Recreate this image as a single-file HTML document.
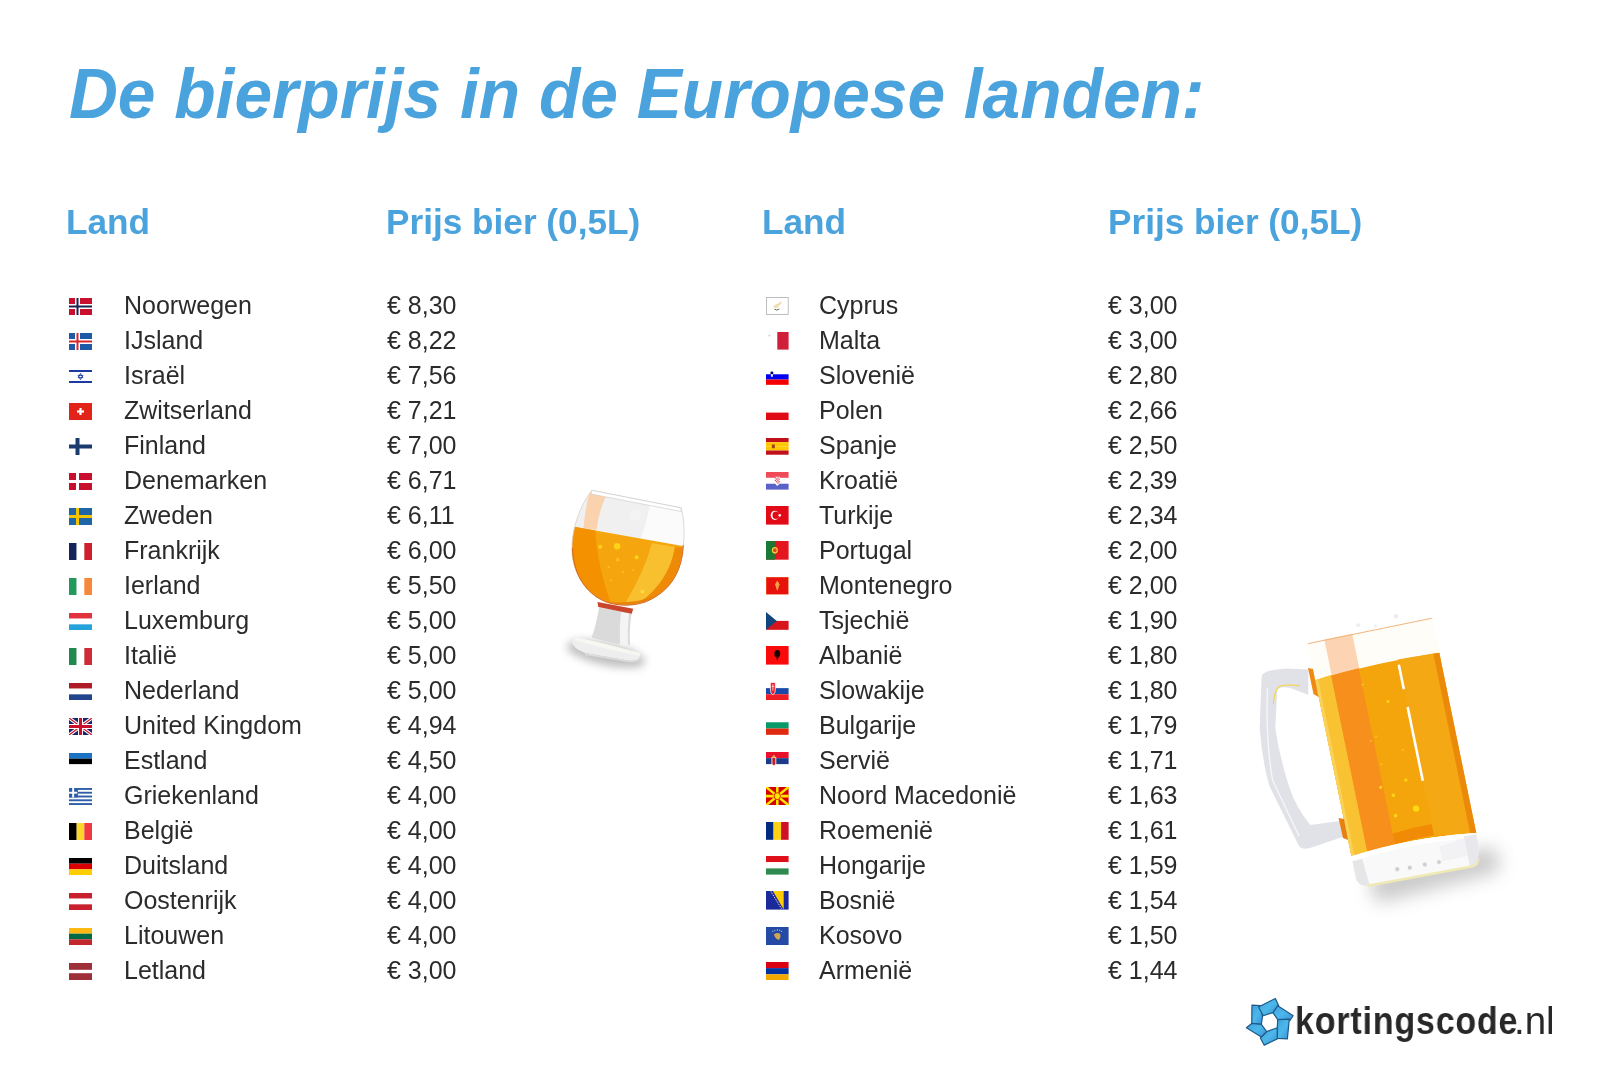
<!DOCTYPE html>
<html><head><meta charset="utf-8"><style>
html,body{margin:0;padding:0;background:#fff;}
body{width:1600px;height:1079px;position:relative;overflow:hidden;font-family:"Liberation Sans",sans-serif;}
.title{position:absolute;left:69px;top:59px;font-size:67.66px;font-weight:bold;font-style:italic;color:#4aa3dc;white-space:nowrap;line-height:1;transform-origin:0 0;transform:scaleY(1.03);}
.h{position:absolute;top:202px;font-size:35.2px;font-weight:bold;color:#4aa3dc;white-space:nowrap;line-height:40px;transform-origin:0 0;will-change:transform;}
.t{position:absolute;font-size:25px;color:#2b2b2b;white-space:nowrap;line-height:30px;will-change:transform;}
.f{position:absolute;display:block;}
</style></head><body>
<div class="title">De bierprijs in de Europese landen:</div>
<div class="h" style="left:66px">Land</div>
<div class="h" style="left:386px">Prijs bier (0,5L)</div>
<div class="h" style="left:762px">Land</div>
<div class="h" style="left:1108px">Prijs bier (0,5L)</div>
<svg class="f" style="left:69px;top:298.00px" width="23" height="17.0" viewBox="0 0 23 17" preserveAspectRatio="none"><rect width="23" height="17" fill="#c8102e"/><rect x="6.0" y="0" width="5" height="17" fill="#fff"/><rect x="0" y="6.0" width="23" height="5" fill="#fff"/><rect x="7.5" y="0" width="2" height="17" fill="#1a2350"/><rect x="0" y="7.5" width="23" height="2" fill="#1a2350"/></svg><div class="t" style="left:124px;top:290px">Noorwegen</div><div class="t" style="left:387px;top:290px">€ 8,30</div><svg class="f" style="left:69px;top:333.00px" width="23" height="17.0" viewBox="0 0 23 17" preserveAspectRatio="none"><rect width="23" height="17" fill="#1f5aa6"/><rect x="6.0" y="0" width="5" height="17" fill="#fff"/><rect x="0" y="6.0" width="23" height="5" fill="#fff"/><rect x="7.5" y="0" width="2" height="17" fill="#d7282f"/><rect x="0" y="7.5" width="23" height="2" fill="#d7282f"/></svg><div class="t" style="left:124px;top:325px">IJsland</div><div class="t" style="left:387px;top:325px">€ 8,22</div><svg class="f" style="left:69px;top:368.00px" width="23" height="17.0" viewBox="0 0 23 17" preserveAspectRatio="none"><rect width="23" height="17" fill="#fff"/><rect y="2" width="23" height="2" fill="#1d3aa0"/><rect y="13" width="23" height="2" fill="#1d3aa0"/><path d="M11.5 5.4 L13.9 9.6 L9.1 9.6Z M11.5 11.6 L9.1 7.4 L13.9 7.4Z" fill="none" stroke="#1d3aa0" stroke-width="0.9"/></svg><div class="t" style="left:124px;top:360px">Israël</div><div class="t" style="left:387px;top:360px">€ 7,56</div><svg class="f" style="left:69px;top:403.00px" width="23" height="17.0" viewBox="0 0 23 17" preserveAspectRatio="none"><rect width="23" height="17" fill="#e2231a"/><rect x="10.4" y="5" width="2.2" height="7" fill="#fff"/><rect x="8" y="7.4" width="7" height="2.2" fill="#fff"/></svg><div class="t" style="left:124px;top:395px">Zwitserland</div><div class="t" style="left:387px;top:395px">€ 7,21</div><svg class="f" style="left:69px;top:438.00px" width="23" height="17.0" viewBox="0 0 23 17" preserveAspectRatio="none"><rect width="23" height="17" fill="#fff"/><rect x="6.5" y="0" width="4" height="17" fill="#1b3b6f"/><rect x="0" y="6.5" width="23" height="4" fill="#1b3b6f"/></svg><div class="t" style="left:124px;top:430px">Finland</div><div class="t" style="left:387px;top:430px">€ 7,00</div><svg class="f" style="left:69px;top:473.00px" width="23" height="17.0" viewBox="0 0 23 17" preserveAspectRatio="none"><rect width="23" height="17" fill="#c8102e"/><rect x="7.0" y="0" width="3" height="17" fill="#fff"/><rect x="0" y="7.0" width="23" height="3" fill="#fff"/></svg><div class="t" style="left:124px;top:465px">Denemarken</div><div class="t" style="left:387px;top:465px">€ 6,71</div><svg class="f" style="left:69px;top:508.00px" width="23" height="17.0" viewBox="0 0 23 17" preserveAspectRatio="none"><rect width="23" height="17" fill="#1f66a8"/><rect x="7.0" y="0" width="3" height="17" fill="#f5c400"/><rect x="0" y="7.0" width="23" height="3" fill="#f5c400"/></svg><div class="t" style="left:124px;top:500px">Zweden</div><div class="t" style="left:387px;top:500px">€ 6,11</div><svg class="f" style="left:69px;top:543.00px" width="23" height="17.0" viewBox="0 0 23 17" preserveAspectRatio="none"><rect x="0.000" y="0" width="7.687" height="17" fill="#14245a"/><rect x="7.667" y="0" width="7.687" height="17" fill="#fff"/><rect x="15.333" y="0" width="7.687" height="17" fill="#cd1f2d"/></svg><div class="t" style="left:124px;top:535px">Frankrijk</div><div class="t" style="left:387px;top:535px">€ 6,00</div><svg class="f" style="left:69px;top:578.00px" width="23" height="17.0" viewBox="0 0 23 17" preserveAspectRatio="none"><rect x="0.000" y="0" width="7.687" height="17" fill="#229a5e"/><rect x="7.667" y="0" width="7.687" height="17" fill="#fff"/><rect x="15.333" y="0" width="7.687" height="17" fill="#f7873a"/></svg><div class="t" style="left:124px;top:570px">Ierland</div><div class="t" style="left:387px;top:570px">€ 5,50</div><svg class="f" style="left:69px;top:613.00px" width="23" height="17.0" viewBox="0 0 23 17" preserveAspectRatio="none"><rect x="0" y="0.000" width="23" height="5.687" fill="#e2323e"/><rect x="0" y="5.667" width="23" height="5.687" fill="#fff"/><rect x="0" y="11.333" width="23" height="5.687" fill="#24a3dc"/></svg><div class="t" style="left:124px;top:605px">Luxemburg</div><div class="t" style="left:387px;top:605px">€ 5,00</div><svg class="f" style="left:69px;top:648.00px" width="23" height="17.0" viewBox="0 0 23 17" preserveAspectRatio="none"><rect x="0.000" y="0" width="7.687" height="17" fill="#1f8a4c"/><rect x="7.667" y="0" width="7.687" height="17" fill="#fff"/><rect x="15.333" y="0" width="7.687" height="17" fill="#cc2b37"/></svg><div class="t" style="left:124px;top:640px">Italië</div><div class="t" style="left:387px;top:640px">€ 5,00</div><svg class="f" style="left:69px;top:683.00px" width="23" height="17.0" viewBox="0 0 23 17" preserveAspectRatio="none"><rect x="0" y="0.000" width="23" height="5.687" fill="#ae1c28"/><rect x="0" y="5.667" width="23" height="5.687" fill="#fff"/><rect x="0" y="11.333" width="23" height="5.687" fill="#21468b"/></svg><div class="t" style="left:124px;top:675px">Nederland</div><div class="t" style="left:387px;top:675px">€ 5,00</div><svg class="f" style="left:69px;top:718.00px" width="23" height="17.0" viewBox="0 0 23 17" preserveAspectRatio="none"><rect width="23" height="17" fill="#1c2466"/><path d="M0 0L23 17M23 0L0 17" stroke="#fff" stroke-width="3.4"/><path d="M0 0L23 17M23 0L0 17" stroke="#c8102e" stroke-width="1.2"/><rect x="9" width="5" height="17" fill="#fff"/><rect y="6" width="23" height="5" fill="#fff"/><rect x="10" width="3" height="17" fill="#c8102e"/><rect y="7" width="23" height="3" fill="#c8102e"/></svg><div class="t" style="left:124px;top:710px">United Kingdom</div><div class="t" style="left:387px;top:710px">€ 4,94</div><svg class="f" style="left:69px;top:753.00px" width="23" height="17.0" viewBox="0 0 23 17" preserveAspectRatio="none"><rect x="0" y="0.000" width="23" height="5.687" fill="#1b73c6"/><rect x="0" y="5.667" width="23" height="5.687" fill="#000"/><rect x="0" y="11.333" width="23" height="5.687" fill="#fff"/></svg><div class="t" style="left:124px;top:745px">Estland</div><div class="t" style="left:387px;top:745px">€ 4,50</div><svg class="f" style="left:69px;top:788.00px" width="23" height="17.0" viewBox="0 0 23 17" preserveAspectRatio="none"><rect width="23" height="17" fill="#fff"/><rect y="0.000" width="23" height="1.889" fill="#2d5ea8"/><rect y="3.778" width="23" height="1.889" fill="#2d5ea8"/><rect y="7.556" width="23" height="1.889" fill="#2d5ea8"/><rect y="11.333" width="23" height="1.889" fill="#2d5ea8"/><rect y="15.111" width="23" height="1.889" fill="#2d5ea8"/><rect width="8.94" height="9.444" fill="#2d5ea8"/><rect x="3.2" y="0" width="1.9" height="9.444" fill="#fff"/><rect x="0" y="3.778" width="8.3" height="1.889" fill="#fff"/></svg><div class="t" style="left:124px;top:780px">Griekenland</div><div class="t" style="left:387px;top:780px">€ 4,00</div><svg class="f" style="left:69px;top:823.00px" width="23" height="17.0" viewBox="0 0 23 17" preserveAspectRatio="none"><rect x="0.000" y="0" width="7.687" height="17" fill="#000"/><rect x="7.667" y="0" width="7.687" height="17" fill="#fbd72b"/><rect x="15.333" y="0" width="7.687" height="17" fill="#ee3a40"/></svg><div class="t" style="left:124px;top:815px">België</div><div class="t" style="left:387px;top:815px">€ 4,00</div><svg class="f" style="left:69px;top:858.00px" width="23" height="17.0" viewBox="0 0 23 17" preserveAspectRatio="none"><rect x="0" y="0.000" width="23" height="5.687" fill="#000"/><rect x="0" y="5.667" width="23" height="5.687" fill="#dd0000"/><rect x="0" y="11.333" width="23" height="5.687" fill="#ffce00"/></svg><div class="t" style="left:124px;top:850px">Duitsland</div><div class="t" style="left:387px;top:850px">€ 4,00</div><svg class="f" style="left:69px;top:893.00px" width="23" height="17.0" viewBox="0 0 23 17" preserveAspectRatio="none"><rect x="0" y="0.000" width="23" height="5.687" fill="#c8202f"/><rect x="0" y="5.667" width="23" height="5.687" fill="#fff"/><rect x="0" y="11.333" width="23" height="5.687" fill="#c8202f"/></svg><div class="t" style="left:124px;top:885px">Oostenrijk</div><div class="t" style="left:387px;top:885px">€ 4,00</div><svg class="f" style="left:69px;top:928.00px" width="23" height="17.0" viewBox="0 0 23 17" preserveAspectRatio="none"><rect x="0" y="0.000" width="23" height="5.687" fill="#fdb913"/><rect x="0" y="5.667" width="23" height="5.687" fill="#006a44"/><rect x="0" y="11.333" width="23" height="5.687" fill="#c1272d"/></svg><div class="t" style="left:124px;top:920px">Litouwen</div><div class="t" style="left:387px;top:920px">€ 4,00</div><svg class="f" style="left:69px;top:963.00px" width="23" height="17.0" viewBox="0 0 23 17" preserveAspectRatio="none"><rect width="23" height="17" fill="#9e3039"/><rect y="6.8" width="23" height="3.4" fill="#fff"/></svg><div class="t" style="left:124px;top:955px">Letland</div><div class="t" style="left:387px;top:955px">€ 3,00</div><svg class="f" style="left:766px;top:297.20px" width="22.6" height="17.8" viewBox="0 0 23 17" preserveAspectRatio="none"><rect x="0.4" y="0.4" width="22.2" height="16.2" fill="#fff" stroke="#b0b0b0" stroke-width="0.8"/><path d="M7 9.5 Q9 7 12 6.5 Q14 5 16 4 L15.5 6.5 Q13 8 12 10 Q10 10.5 7 9.5 Z" fill="#eedcaa"/><path d="M8.5 11.5 Q11 13.5 13.5 11.5" stroke="#505a40" stroke-width="0.9" fill="none"/></svg><div class="t" style="left:819px;top:290px">Cyprus</div><div class="t" style="left:1108px;top:290px">€ 3,00</div><svg class="f" style="left:766px;top:332.40px" width="22.6" height="17.6" viewBox="0 0 23 17" preserveAspectRatio="none"><rect width="23" height="17" fill="#fff"/><rect x="11.5" width="11.5" height="17" fill="#cf1f39"/><path d="M2.5 3.5h2M3.5 2.5v2" stroke="#bbb" stroke-width="0.6"/></svg><div class="t" style="left:819px;top:325px">Malta</div><div class="t" style="left:1108px;top:325px">€ 3,00</div><svg class="f" style="left:766px;top:369.20px" width="22.6" height="15.8" viewBox="0 0 23 17" preserveAspectRatio="none"><rect x="0" y="0.000" width="23" height="5.687" fill="#fff"/><rect x="0" y="5.667" width="23" height="5.687" fill="#0000f5"/><rect x="0" y="11.333" width="23" height="5.687" fill="#f50000"/><circle cx="6" cy="4.2" r="1.6" fill="#000a60"/><rect x="5" y="5.7" width="2" height="2.6" fill="#fff"/></svg><div class="t" style="left:819px;top:360px">Slovenië</div><div class="t" style="left:1108px;top:360px">€ 2,80</div><svg class="f" style="left:766px;top:404.80px" width="22.6" height="15.2" viewBox="0 0 23 17" preserveAspectRatio="none"><rect x="0" y="0.000" width="23" height="8.520" fill="#fff"/><rect x="0" y="8.500" width="23" height="8.520" fill="#e00a16"/></svg><div class="t" style="left:819px;top:395px">Polen</div><div class="t" style="left:1108px;top:395px">€ 2,66</div><svg class="f" style="left:766px;top:438.30px" width="22.6" height="16.7" viewBox="0 0 23 17" preserveAspectRatio="none"><rect x="0" y="0.000" width="23" height="4.270" fill="#c0101a"/><rect x="0" y="4.250" width="23" height="4.270" fill="#ffc800"/><rect x="0" y="8.500" width="23" height="4.270" fill="#ffc800"/><rect x="0" y="12.750" width="23" height="4.270" fill="#c0101a"/><path d="M6 6.5h3v3.5q-1.5 1.5-3 0z" fill="#a0401a"/></svg><div class="t" style="left:819px;top:430px">Spanje</div><div class="t" style="left:1108px;top:430px">€ 2,50</div><svg class="f" style="left:766px;top:472.40px" width="22.6" height="17.6" viewBox="0 0 23 17" preserveAspectRatio="none"><rect x="0" y="0.000" width="23" height="5.687" fill="#f04a58"/><rect x="0" y="5.667" width="23" height="5.687" fill="#fff"/><rect x="0" y="11.333" width="23" height="5.687" fill="#5a62c8"/><path d="M9 4.5h5v5q0 3-2.5 4q-2.5-1-2.5-4z" fill="#fff"/><g fill="#e84050"><rect x="9" y="5" width="1.25" height="1.25"/><rect x="11.5" y="5" width="1.25" height="1.25"/><rect x="10.25" y="6.25" width="1.25" height="1.25"/><rect x="12.75" y="6.25" width="1.25" height="1.25"/><rect x="9" y="7.5" width="1.25" height="1.25"/><rect x="11.5" y="7.5" width="1.25" height="1.25"/><rect x="10.25" y="8.75" width="1.25" height="1.25"/><rect x="12.75" y="8.75" width="1.25" height="1.25"/><rect x="11.5" y="10" width="1.25" height="1.25"/></g></svg><div class="t" style="left:819px;top:465px">Kroatië</div><div class="t" style="left:1108px;top:465px">€ 2,39</div><svg class="f" style="left:766px;top:506.40px" width="22.6" height="18.6" viewBox="0 0 23 17" preserveAspectRatio="none"><rect width="23" height="17" fill="#e30a17"/><circle cx="9" cy="8.5" r="4.2" fill="#fff"/><circle cx="10" cy="8.5" r="3.4" fill="#e30a17"/><circle cx="14" cy="8.5" r="1.3" fill="#fff"/></svg><div class="t" style="left:819px;top:500px">Turkije</div><div class="t" style="left:1108px;top:500px">€ 2,34</div><svg class="f" style="left:766px;top:541.30px" width="22.6" height="18.7" viewBox="0 0 23 17" preserveAspectRatio="none"><rect width="23" height="17" fill="#e4161e"/><rect width="9" height="17" fill="#1a7a34"/><circle cx="9" cy="8.5" r="3" fill="#f4d23a"/><circle cx="9" cy="8.5" r="1.8" fill="#d42"/></svg><div class="t" style="left:819px;top:535px">Portugal</div><div class="t" style="left:1108px;top:535px">€ 2,00</div><svg class="f" style="left:766px;top:577.40px" width="22.6" height="17.6" viewBox="0 0 23 17" preserveAspectRatio="none"><rect width="23" height="17" fill="#f06030"/><rect x="0.6" y="0.6" width="21.8" height="15.8" fill="#e8120c"/><path d="M11.5 3.5 L13.8 7 L12.5 11 L11.5 13.5 L10.5 11 L9.2 7Z" fill="#f0a040"/></svg><div class="t" style="left:819px;top:570px">Montenegro</div><div class="t" style="left:1108px;top:570px">€ 2,00</div><svg class="f" style="left:766px;top:612.20px" width="22.6" height="17.8" viewBox="0 0 23 17" preserveAspectRatio="none"><rect x="0" y="0.000" width="23" height="8.520" fill="#fff"/><rect x="0" y="8.500" width="23" height="8.520" fill="#d7141a"/><path d="M0 0 L11 8.5 L0 17Z" fill="#11457e"/></svg><div class="t" style="left:819px;top:605px">Tsjechië</div><div class="t" style="left:1108px;top:605px">€ 1,90</div><svg class="f" style="left:766px;top:646.40px" width="22.6" height="18.6" viewBox="0 0 23 17" preserveAspectRatio="none"><rect width="23" height="17" fill="#fa0a0a"/><ellipse cx="11.5" cy="7" rx="3" ry="3.3" fill="#150000"/><path d="M10 9 L13 9 L11.5 14Z" fill="#400000"/></svg><div class="t" style="left:819px;top:640px">Albanië</div><div class="t" style="left:1108px;top:640px">€ 1,80</div><svg class="f" style="left:766px;top:681.60px" width="22.6" height="18.4" viewBox="0 0 23 17" preserveAspectRatio="none"><rect x="0" y="0.000" width="23" height="5.687" fill="#fff"/><rect x="0" y="5.667" width="23" height="5.687" fill="#1a4aa8"/><rect x="0" y="11.333" width="23" height="5.687" fill="#ee1c25"/><path d="M4.5 0.5h5v7q0 3-2.5 4.5q-2.5-1.5-2.5-4.5z" fill="#ee1c25" stroke="#fff" stroke-width="0.7"/><path d="M7 2v6M5.8 4h2.4" stroke="#fff" stroke-width="0.7"/></svg><div class="t" style="left:819px;top:675px">Slowakije</div><div class="t" style="left:1108px;top:675px">€ 1,80</div><svg class="f" style="left:766px;top:716.20px" width="22.6" height="18.8" viewBox="0 0 23 17" preserveAspectRatio="none"><rect x="0" y="0.000" width="23" height="5.687" fill="#fff"/><rect x="0" y="5.667" width="23" height="5.687" fill="#0a9a6a"/><rect x="0" y="11.333" width="23" height="5.687" fill="#e02a10"/></svg><div class="t" style="left:819px;top:710px">Bulgarije</div><div class="t" style="left:1108px;top:710px">€ 1,79</div><svg class="f" style="left:766px;top:751.50px" width="22.6" height="18.5" viewBox="0 0 23 17" preserveAspectRatio="none"><rect x="0" y="0.000" width="23" height="5.687" fill="#e8102a"/><rect x="0" y="5.667" width="23" height="5.687" fill="#1a3a8a"/><rect x="0" y="11.333" width="23" height="5.687" fill="#fff"/><path d="M6 5h4v6q-2 3-4 0z" fill="#c02020" stroke="#fff" stroke-width="0.8"/><circle cx="8" cy="4" r="1.2" fill="#e0a040"/></svg><div class="t" style="left:819px;top:745px">Servië</div><div class="t" style="left:1108px;top:745px">€ 1,71</div><svg class="f" style="left:766px;top:786.70px" width="22.6" height="18.3" viewBox="0 0 23 17" preserveAspectRatio="none"><rect width="23" height="17" fill="#d20000"/><g stroke="#ffe600" stroke-width="2.4"><path d="M0 0L23 17M23 0L0 17"/></g><g stroke="#ffe600" stroke-width="2.6"><path d="M11.5 0V17M0 8.5H23"/></g><circle cx="11.5" cy="8.5" r="3.2" fill="#ffe600" stroke="#d20000" stroke-width="0.8"/></svg><div class="t" style="left:819px;top:780px">Noord Macedonië</div><div class="t" style="left:1108px;top:780px">€ 1,63</div><svg class="f" style="left:766px;top:822.20px" width="22.6" height="17.8" viewBox="0 0 23 17" preserveAspectRatio="none"><rect x="0.000" y="0" width="7.687" height="17" fill="#002b7f"/><rect x="7.667" y="0" width="7.687" height="17" fill="#fcd116"/><rect x="15.333" y="0" width="7.687" height="17" fill="#ce1126"/></svg><div class="t" style="left:819px;top:815px">Roemenië</div><div class="t" style="left:1108px;top:815px">€ 1,61</div><svg class="f" style="left:766px;top:856.40px" width="22.6" height="18.6" viewBox="0 0 23 17" preserveAspectRatio="none"><rect x="0" y="0.000" width="23" height="5.687" fill="#e0101a"/><rect x="0" y="5.667" width="23" height="5.687" fill="#fff"/><rect x="0" y="11.333" width="23" height="5.687" fill="#2e8a50"/></svg><div class="t" style="left:819px;top:850px">Hongarije</div><div class="t" style="left:1108px;top:850px">€ 1,59</div><svg class="f" style="left:766px;top:891.40px" width="22.6" height="18.6" viewBox="0 0 23 17" preserveAspectRatio="none"><rect width="23" height="17" fill="#1a2a9a"/><path d="M7 0 L18 0 L18 17Z" fill="#ffcc00"/><path d="M5 0.5 L16 16.5" stroke="#fff" stroke-width="0.9" stroke-dasharray="1 1"/></svg><div class="t" style="left:819px;top:885px">Bosnië</div><div class="t" style="left:1108px;top:885px">€ 1,54</div><svg class="f" style="left:766px;top:926.70px" width="22.6" height="18.3" viewBox="0 0 23 17" preserveAspectRatio="none"><rect width="23" height="17" fill="#244aa5"/><path d="M8 7 Q11 5 14 6 Q16 9 13 12 Q10 11 9 9Z" fill="#d0a650"/><g fill="#fff"><circle cx="7" cy="4" r="0.5"/><circle cx="9" cy="3" r="0.5"/><circle cx="11.5" cy="2.7" r="0.5"/><circle cx="14" cy="3" r="0.5"/><circle cx="16" cy="4" r="0.5"/></g></svg><div class="t" style="left:819px;top:920px">Kosovo</div><div class="t" style="left:1108px;top:920px">€ 1,50</div><svg class="f" style="left:766px;top:961.60px" width="22.6" height="18.4" viewBox="0 0 23 17" preserveAspectRatio="none"><rect x="0" y="0.000" width="23" height="5.687" fill="#d90012"/><rect x="0" y="5.667" width="23" height="5.687" fill="#0033a0"/><rect x="0" y="11.333" width="23" height="5.687" fill="#f2a800"/></svg><div class="t" style="left:819px;top:955px">Armenië</div><div class="t" style="left:1108px;top:955px">€ 1,44</div>

<svg style="position:absolute;left:540px;top:470px" width="180" height="220" viewBox="540 470 180 220">
<defs>
<filter id="blur1" x="-50%" y="-50%" width="200%" height="200%"><feGaussianBlur stdDeviation="4"/></filter>
<clipPath id="bowl1"><path d="M591.8,490.4 L681.3,507.9 C684,520 685,535 683.3,545 C682,572 670,592 645,602 C630,607 612,606 600,599 C584,590 573,572 572,552 C571,530 580,505 591.8,490.4 Z"/></clipPath>
<clipPath id="beer1"><path d="M560,526.7 L574,526.7 L684,546.2 L700,546 L700,640 L560,640 Z"/></clipPath>
</defs>
<ellipse cx="606" cy="654" rx="40" ry="11" transform="rotate(12 606 654)" fill="#8a8a8a" opacity="0.55" filter="url(#blur1)"/>
<path d="M575.8,637.5 Q600,642 640,653.3 L639.5,658 Q636,661.5 628,660.5 L585,653 Q572,648 571.7,641 Z" fill="#eeeeee"/>
<path d="M575.8,637.5 Q600,642 640,653.3 L639.5,656 Q610,650 574,640 Z" fill="#f7f7f2"/>
<path d="M585,653 L628,660.5 Q636,661.5 639.5,658 L639.5,660 Q636,663 628,662 L585,655 Z" fill="#dcdcdc"/>
<path d="M599,607.5 L631.7,613.3 Q629,628 630,645 Q612,644 591.7,637.5 Q597,622 599,607.5 Z" fill="#dadada"/>
<path d="M621,612 L629,613.3 Q627,630 628,646 L620,645 Q619,628 621,612 Z" fill="#f4f4f4"/>
<path d="M597.5,602 L633.3,608.8 L631.7,613.8 L598.3,607 Z" fill="#c9452b"/>
<path d="M591.8,490.4 L681.3,507.9 C684,520 685,535 683.3,545 C682,572 670,592 645,602 C630,607 612,606 600,599 C584,590 573,572 572,552 C571,530 580,505 591.8,490.4 Z" fill="#f0f0f0"/>
<g clip-path="url(#bowl1)">
<path d="M652,495 L690,505 L690,550 L640,540 Q648,520 652,495 Z" fill="#fbfbfb"/><circle cx="635" cy="515" r="6" fill="#f6f6f6" opacity="0.6"/>
<path d="M589.5,492 L606.5,495 Q599,510 596.5,530 L583.5,528 Q585,510 589.5,492 Z" fill="#fbd2ae"/>
<g clip-path="url(#beer1)">
<rect x="560" y="500" width="140" height="140" fill="#f5a50d"/>
<path d="M560,520 L595,529 Q597,565 611,604 L560,610 Z" fill="#f49100"/>
<path d="M652,543 L675,547 Q669,582 639,603 L626,602 Q644,572 652,543 Z" fill="#f8bf2f"/>
<path d="M675,547 L690,548 Q685,585 646,604 L639,603 Q669,582 675,547 Z" fill="#ee8a05"/>
<path d="M570,590 Q610,612 660,595 L660,610 L570,610 Z" fill="#e67a00" opacity="0.8"/>
<circle cx="600.2" cy="546.8" r="2" fill="#ffd21a"/>
<circle cx="617.1" cy="546.2" r="3.2" fill="#ffd21a"/>
<circle cx="636.6" cy="557.2" r="2" fill="#ffd21a"/>
<circle cx="617.7" cy="559.8" r="1.8" fill="#ffc21a"/>
<circle cx="608.7" cy="567" r="1.1" fill="#ffc21a"/>
<circle cx="623" cy="572" r="1.1" fill="#ffc21a"/>
<circle cx="611" cy="580.6" r="1" fill="#ffc21a"/>
<circle cx="633.3" cy="570.2" r="1" fill="#ffc21a"/>
<circle cx="642.4" cy="591.6" r="2" fill="#ffd83a"/>
</g>
</g>
<path d="M591.8,490.4 L681.3,507.9 C684,520 685,535 683.3,545 C682,572 670,592 645,602 C630,607 612,606 600,599 C584,590 573,572 572,552 C571,530 580,505 591.8,490.4 Z" fill="none" stroke="#d9d0c8" stroke-width="0.8"/>
<path d="M572.5,548 C573,572 584,590 600,599 C612,606 630,607 645,602 C670,592 682,572 683.3,545" fill="none" stroke="#d9671a" stroke-width="1"/>
<path d="M591.8,490.4 L681.3,507.9 L681,511.5 L591,494 Z" fill="#ffffff" stroke="#c9c9c9" stroke-width="0.6"/>
</svg>

<svg style="position:absolute;left:1230px;top:590px" width="290" height="340" viewBox="1230 590 290 340">
<defs>
<filter id="blur2" x="-50%" y="-80%" width="200%" height="260%"><feGaussianBlur stdDeviation="9"/></filter>
<filter id="blur2b"><feGaussianBlur stdDeviation="0.5"/></filter>
<clipPath id="mugc"><rect x="-1" y="-1" width="128.7" height="262"/></clipPath>
</defs>
<g transform="translate(1307.8,643.7) rotate(-11.6)">
<path d="M20,236 L135,236 Q150,240 140,262 L20,268 Q5,262 20,236 Z" fill="#8a8a8a" opacity="0.45" filter="url(#blur2)"/>
</g>
<path d="M1308.3,669.4 L1287,668.5 Q1263,670 1261.7,676 L1259.7,727.8 Q1262,760 1269.4,786.1 L1299,846 Q1302,850 1310,848 L1343.3,836.7 L1339.5,821.1 L1310.3,825 Q1296,808 1288.9,786.1 Q1279,755 1275.3,727.8 L1277.2,690 Q1280,686 1290,688 L1308.3,694.7 Z" fill="#e1e2e8"/>
<path d="M1267.5,688 Q1265.5,740 1272.5,780 L1299,836" fill="none" stroke="#f7f7fa" stroke-width="1.3"/>
<path d="M1273.5,704 Q1274,690 1280,686 Q1290,684 1300,686" fill="none" stroke="#f2d43a" stroke-width="1.1"/>
<circle cx="1358.2" cy="625.2" r="2" fill="#efeff2"/>
<circle cx="1375.3" cy="626" r="1.8" fill="#f2f2f4"/>
<circle cx="1396" cy="616.3" r="2.2" fill="#ececf0"/>
<g transform="translate(1307.8,643.7) rotate(-11.6)">
<g clip-path="url(#mugc)">
<rect x="-1" y="-1" width="129" height="41" fill="#fffdf8"/>
<rect x="17" y="-1" width="28.5" height="41" fill="#fdd4b3"/>
<path d="M0,37.2 Q63,32 127,35.3 L127,219.2 Q63,210 0,217 Z" fill="#f5a50c"/>
<path d="M0,37.2 Q8,36 16.5,35.4 L16.5,217 Q8,217 0,217 Z" fill="#f8c233"/>
<path d="M0,37.2 L3,37 L3,217 L0,217 Z" fill="#fad15a"/>
<path d="M16.5,35.8 Q30,34.8 45,34.3 L45,215 Q30,216 16.5,217 Z" fill="#f78f1c"/>
<path d="M85,33.6 Q100,34 121,34.8 L121,218.5 Q100,214 85,213 Z" fill="#f4a814"/>
<path d="M121,34.8 L127,35.3 L127,219.2 L121,218.5 Z" fill="#eb8a0a"/>
<path d="M45,203 Q65,201 85,201.5 L85,213 Q65,212 45,215 Z" fill="#f18b05"/>
<rect x="83.6" y="39" width="2.6" height="25" fill="#ffffff"/>
<rect x="83.8" y="82" width="2.6" height="75.5" fill="#ffffff"/>
<circle cx="45.6" cy="51" r="1" fill="#ffce2a"/>
<circle cx="66.9" cy="72.8" r="1.5" fill="#ffd21a"/>
<circle cx="42.2" cy="107.9" r="1" fill="#ffc21a"/>
<circle cx="48.2" cy="104.5" r="1" fill="#ffc21a"/>
<circle cx="71.7" cy="123" r="1.1" fill="#ffc21a"/>
<circle cx="47.9" cy="133" r="1" fill="#ffc21a"/>
<circle cx="68.6" cy="153.4" r="1.6" fill="#ffd21a"/>
<circle cx="42.5" cy="155.4" r="1.6" fill="#ffd21a"/>
<circle cx="53.3" cy="165.6" r="1.8" fill="#ffd21a"/>
<circle cx="72.9" cy="183.3" r="3.2" fill="#ffd80f"/>
<circle cx="51.4" cy="186.1" r="1.8" fill="#ffd21a"/>
<path d="M0,217 Q63,210 127,219.2 L126.5,232 Q124,249 117,251.5 L10,249.5 Q1,248 0,240 Z" fill="#f9f9f9"/>
<path d="M0,217 Q63,210 127,219.2 L126.8,224 Q63,215 0,222 Z" fill="#ffffff"/>
<path d="M0,222 L0,240 Q1,248 10,249.5 L12,249.5 L10,221.5 Z" fill="#e6e6e8"/>
<path d="M114,220 L127,220.5 L126.5,232 Q124,249 117,251.5 L114,251.5 Z" fill="#e8e8ec"/>
<path d="M88,225 L114,222 L114,240 L88,240 Z" fill="#f2f2f4"/>
<path d="M10,248 L117,250 Q123,249 125,243 L125,245 Q124,251.5 117,252.5 L10,250.5 Z" fill="#efeab5"/>
<g filter="url(#blur2b)">
<circle cx="42.3" cy="238.9" r="2.1" fill="#cdcdcd"/>
<circle cx="54.9" cy="239.9" r="2.1" fill="#cdcdcd"/>
<circle cx="70.2" cy="239.8" r="2.1" fill="#cdcdcd"/>
<circle cx="84.6" cy="240.3" r="2" fill="#cdcdcd"/>
</g>
</g>
<path d="M0,0 L126.5,0" stroke="#f0b37a" stroke-width="0.9"/>
</g>
<path d="M1308,668 L1313,669 L1318.5,697 L1313.5,694 Z" fill="#ee8a12"/>
<path d="M1338.5,818 L1344,819 L1348,840 L1343,838 Z" fill="#e88010"/>
</svg>

<svg style="position:absolute;left:1240px;top:990px" width="60" height="60" viewBox="1240 990 60 60">
<defs><linearGradient id="lg" x1="0" y1="0" x2="1" y2="1"><stop offset="0" stop-color="#3f9fe0"/><stop offset="0.5" stop-color="#4cb8ea"/><stop offset="1" stop-color="#3a8fd8"/></linearGradient></defs>
<polygon points="1251.95,1005.16 1260.39,1005.64 1262.55,1016.24 1261.35,1024.43 1251.71,1023.47" fill="url(#lg)" stroke="#1f5a86" stroke-width="1.2" stroke-linejoin="round"/><polygon points="1258.46,1007.08 1275.33,998.41 1278.70,1005.64 1272.92,1012.63 1263.28,1015.76" fill="url(#lg)" stroke="#1f5a86" stroke-width="1.2" stroke-linejoin="round"/><polygon points="1277.73,1005.64 1293.16,1015.76 1289.78,1020.58 1277.73,1019.61 1272.92,1012.63" fill="url(#lg)" stroke="#1f5a86" stroke-width="1.2" stroke-linejoin="round"/><polygon points="1277.73,1019.61 1289.30,1019.13 1287.37,1038.89 1277.25,1038.41 1277.25,1027.81" fill="url(#lg)" stroke="#1f5a86" stroke-width="1.2" stroke-linejoin="round"/><polygon points="1266.65,1031.66 1277.25,1027.81 1277.25,1038.89 1264.24,1045.16 1260.39,1037.93" fill="url(#lg)" stroke="#1f5a86" stroke-width="1.2" stroke-linejoin="round"/><polygon points="1246.41,1027.81 1251.71,1023.47 1261.35,1024.43 1266.65,1031.66 1261.35,1036.96" fill="url(#lg)" stroke="#1f5a86" stroke-width="1.2" stroke-linejoin="round"/>
</svg>
<div id="lk" style="position:absolute;left:1295px;top:997px;font-size:38.5px;font-weight:bold;color:#282828;white-space:nowrap;line-height:48px;transform-origin:0 0;transform:scaleX(0.88);letter-spacing:1px;will-change:transform">kortingscode</div>
<div id="ln" style="position:absolute;left:1514px;top:997px;will-change:transform;font-size:38.5px;color:#282828;white-space:nowrap;line-height:48px;transform-origin:0 0;">.nl</div>

</body></html>
